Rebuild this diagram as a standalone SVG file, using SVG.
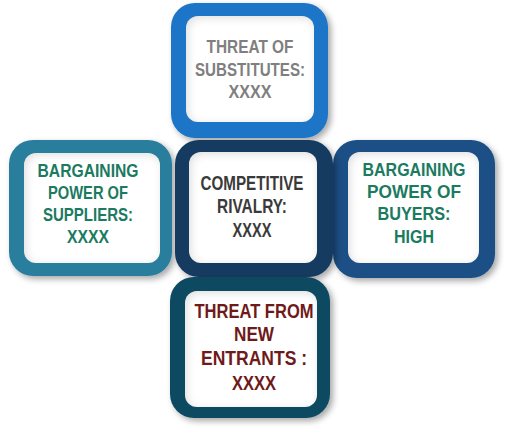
<svg xmlns="http://www.w3.org/2000/svg" width="508" height="428" viewBox="0 0 508 428">
<defs>
<filter id="drop" x="-10%" y="-10%" width="125%" height="125%">
<feDropShadow dx="3" dy="3" stdDeviation="3" flood-color="#000" flood-opacity="0.35"/>
</filter>
<filter id="ins" x="-10%" y="-10%" width="120%" height="120%">
<feComponentTransfer in="SourceAlpha" result="inv"><feFuncA type="table" tableValues="1 0"/></feComponentTransfer>
<feGaussianBlur in="inv" stdDeviation="4" result="blur"/>
<feOffset dx="2" dy="2" result="off"/>
<feFlood flood-color="#000" flood-opacity="0.28"/>
<feComposite in2="off" operator="in" result="sh"/>
<feComposite in="sh" in2="SourceAlpha" operator="in" result="ins"/>
<feMerge><feMergeNode in="SourceGraphic"/><feMergeNode in="ins"/></feMerge>
</filter>
</defs>
<style>
.outer{filter:url(#drop)}
.inner{fill:#fff;filter:url(#ins)}
text{font-family:"Liberation Sans",Arial,sans-serif;font-weight:bold;text-anchor:middle}
.t1{fill:#7f7f7f;font-size:18px}
.g{fill:#1b7a5f;font-size:18px}
.c{fill:#3a3a3a;font-size:20px}
.r{fill:#6e1a1a;font-size:20px}
</style>
<rect width="508" height="428" fill="#fff"/>
<g id="connectors"></g>
<g id="top">
<rect class="outer" x="171" y="3" width="157" height="135" rx="24" fill="#1d74c7"/>
<rect class="inner" x="186" y="16" width="128" height="106" rx="12"/>
<text class="t1" x="250" y="53" textLength="87" lengthAdjust="spacingAndGlyphs">THREAT OF</text>
<text class="t1" x="250" y="76" textLength="110" lengthAdjust="spacingAndGlyphs">SUBSTITUTES:</text>
<text class="t1" x="250" y="98" textLength="43" lengthAdjust="spacingAndGlyphs">XXXX</text>
</g>
<g id="left">
<rect class="outer" x="9" y="140" width="163" height="136" rx="24" fill="#2a7e9d"/>
<rect class="inner" x="24" y="153" width="136" height="110" rx="12"/>
<text class="g" x="88" y="177" textLength="101" lengthAdjust="spacingAndGlyphs">BARGAINING</text>
<text class="g" x="88" y="199" textLength="80" lengthAdjust="spacingAndGlyphs">POWER OF</text>
<text class="g" x="88" y="221" textLength="90" lengthAdjust="spacingAndGlyphs">SUPPLIERS:</text>
<text class="g" x="88" y="243" textLength="42" lengthAdjust="spacingAndGlyphs">XXXX</text>
</g>
<g id="right">
<rect class="outer" x="333" y="140" width="162" height="138" rx="24" fill="#1c4f86"/>
<rect class="inner" x="348" y="152" width="131" height="111" rx="12"/>
<text class="g" x="414" y="176" textLength="103" lengthAdjust="spacingAndGlyphs">BARGAINING</text>
<text class="g" x="414" y="198" textLength="94" lengthAdjust="spacingAndGlyphs">POWER  OF</text>
<text class="g" x="414" y="220" textLength="73" lengthAdjust="spacingAndGlyphs">BUYERS:</text>
<text class="g" x="414" y="243" textLength="40" lengthAdjust="spacingAndGlyphs">HIGH</text>
</g>
<g id="center">
<rect class="outer" x="175" y="140" width="158" height="137" rx="24" fill="#163a61"/>
<rect class="inner" x="189" y="152" width="128" height="111" rx="12"/>
<text class="c" x="252" y="190" textLength="103" lengthAdjust="spacingAndGlyphs">COMPETITIVE</text>
<text class="c" x="252" y="213" textLength="70" lengthAdjust="spacingAndGlyphs">RIVALRY:</text>
<text class="c" x="252" y="237" textLength="39" lengthAdjust="spacingAndGlyphs">XXXX</text>
</g>
<g id="bottom">
<rect class="outer" x="170" y="277" width="160" height="141" rx="24" fill="#0e4a60"/>
<rect class="inner" x="185" y="291" width="132" height="116" rx="12"/>
<text class="r" x="254" y="318" textLength="119" lengthAdjust="spacingAndGlyphs">THREAT FROM</text>
<text class="r" x="254" y="341" textLength="40" lengthAdjust="spacingAndGlyphs">NEW</text>
<text class="r" x="254" y="365" textLength="106" lengthAdjust="spacingAndGlyphs">ENTRANTS :</text>
<text class="r" x="254" y="390" textLength="44" lengthAdjust="spacingAndGlyphs">XXXX</text>
</g>
</svg>
